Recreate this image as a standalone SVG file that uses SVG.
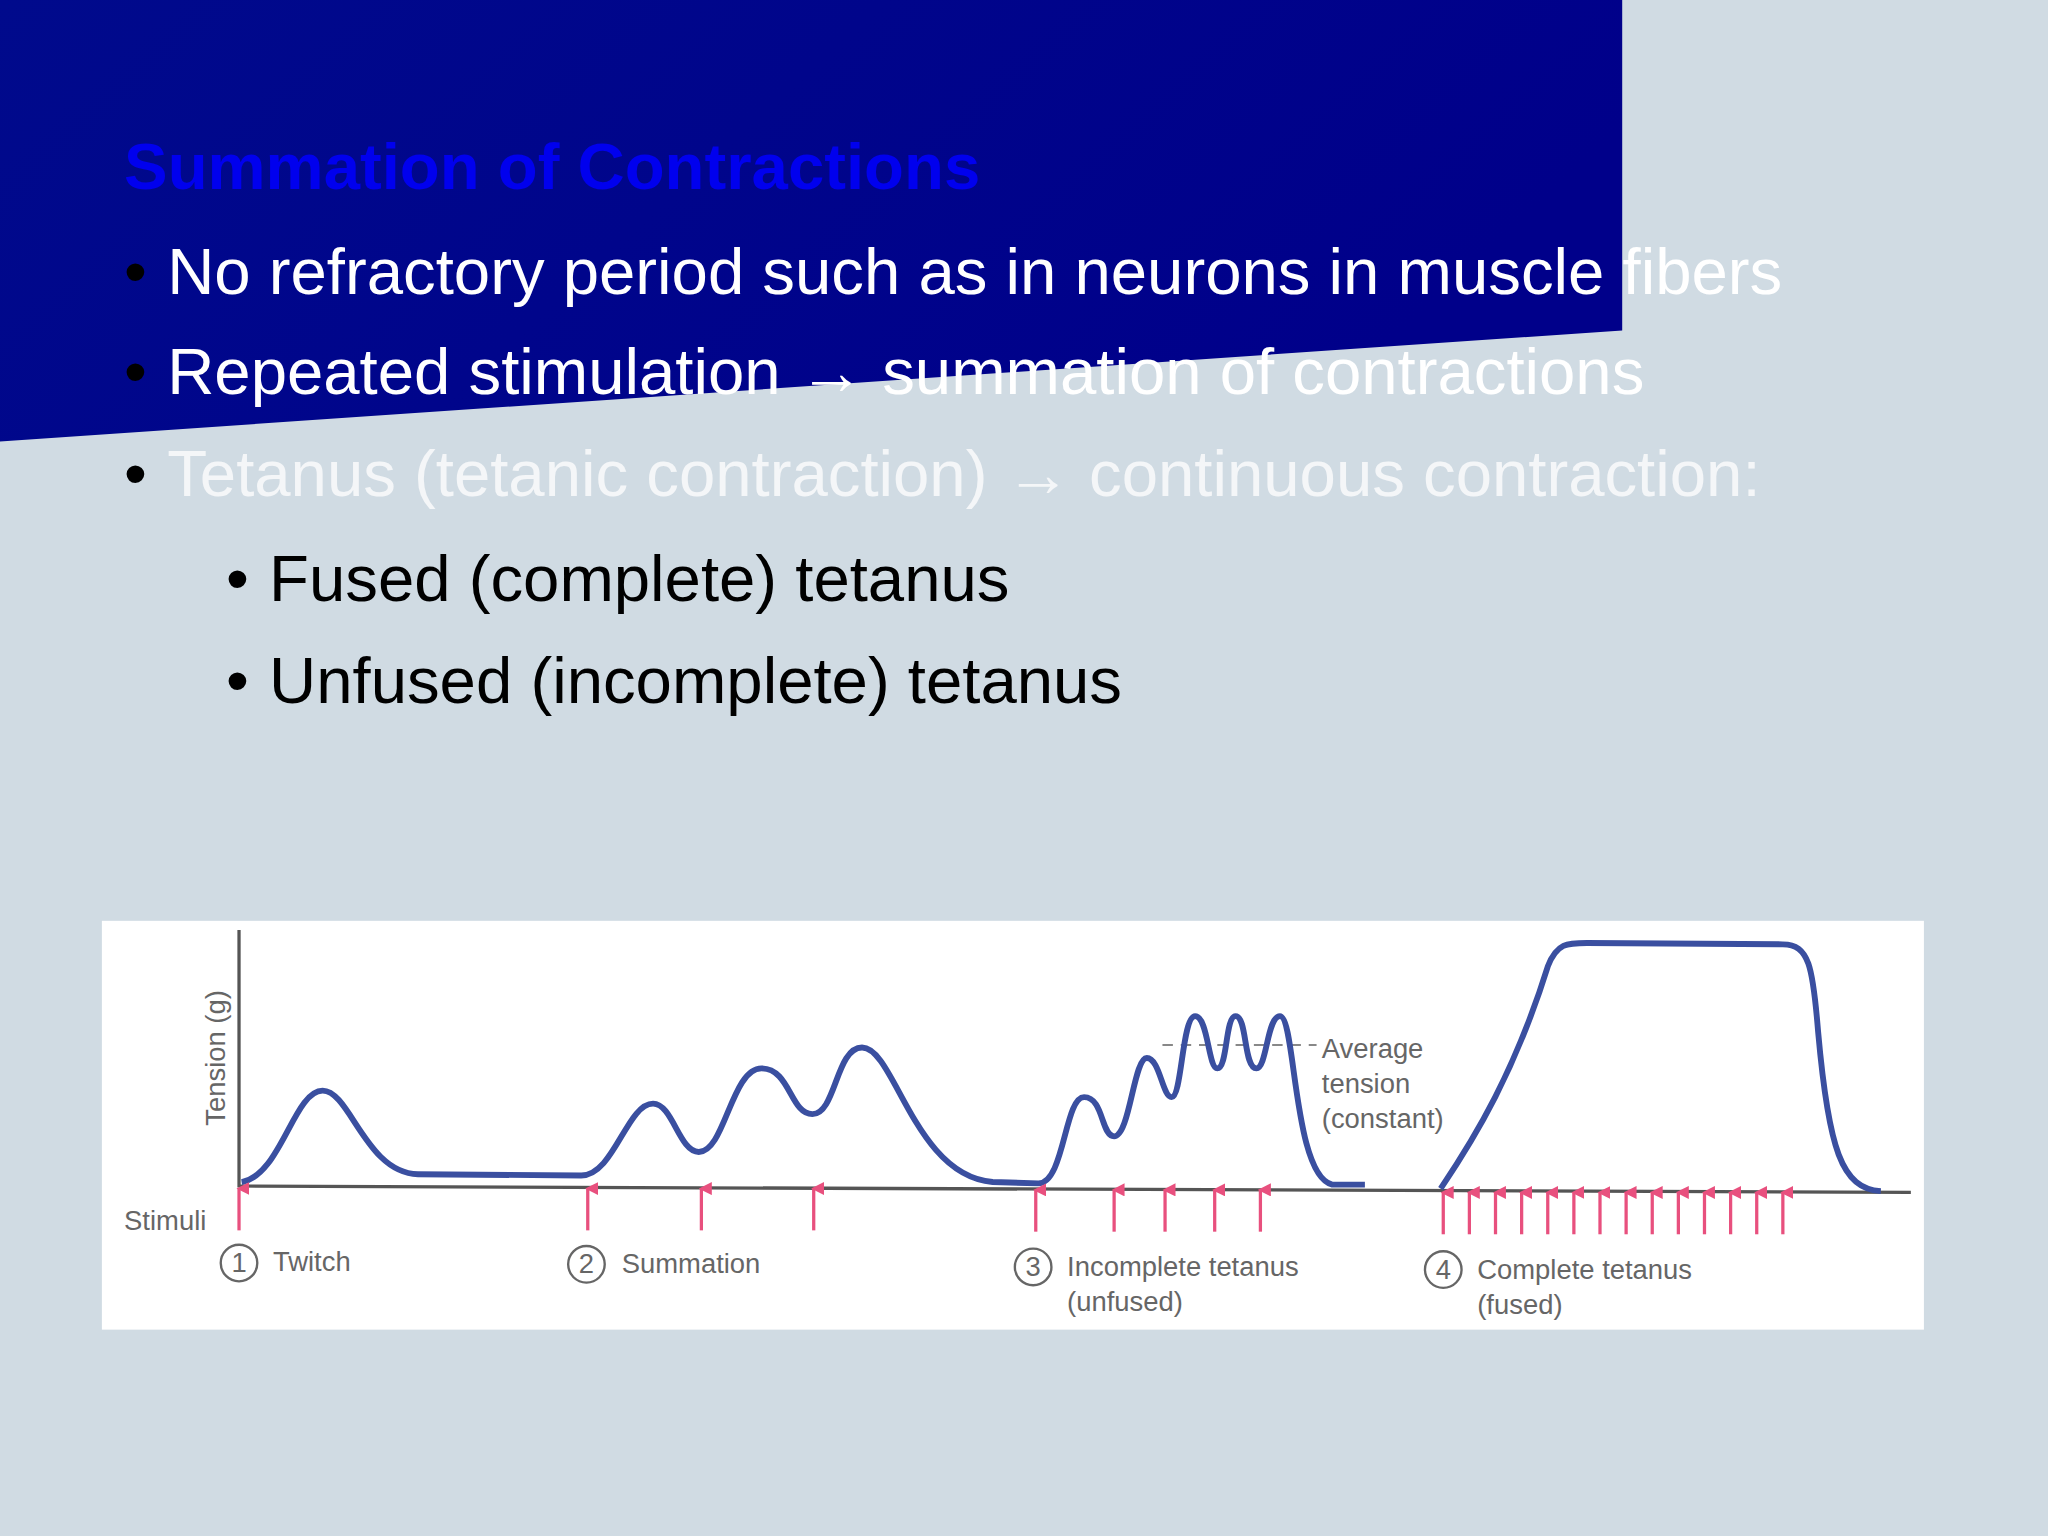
<svg xmlns="http://www.w3.org/2000/svg" width="2048" height="1536" viewBox="0 0 2048 1536">
<defs>
<linearGradient id="bg" x1="0" y1="0" x2="1" y2="0.3"><stop offset="0" stop-color="#000a8c"/><stop offset="1" stop-color="#00008a"/></linearGradient>
<marker id="ar" viewBox="0 0 10 10" refX="5" refY="2" markerWidth="4" markerHeight="4" orient="auto-start-reverse"><path d="M0,10 L5,0 L10,10 Z" fill="#e8507e"/></marker>
</defs>
<style>
.t{font-family:"Liberation Sans",Arial,sans-serif;font-size:50px}
.g{font-family:"Liberation Sans",Arial,sans-serif;font-size:21px;fill:#666}
.s{stroke:#e8507e;stroke-width:2.5;marker-start:url(#ar)}
.c{fill:none;stroke:#666;stroke-width:1.8}
</style>
<rect width="2048" height="1536" fill="#d0dbe3"/>
<g transform="scale(1.30612)">
<polygon points="0,0 1242,0 1242,253 0,338" fill="url(#bg)"/>
<text x="95" y="145" class="t" font-weight="bold" fill="#0000ee">Summation of Contractions</text>
<text x="95" y="225" class="t" fill="#000">•</text>
<text x="128" y="225" class="t" fill="#fff">No refractory period such as in neurons in muscle fibers</text>
<text x="95" y="302" class="t" fill="#000">•</text>
<text x="128" y="302" class="t" fill="#fff">Repeated stimulation → summation of contractions</text>
<text x="95" y="380" class="t" fill="#000">•</text>
<text x="128" y="380" class="t" fill="#f4f6f8">Tetanus (tetanic contraction) → continuous contraction:</text>
<text x="173" y="460" class="t" fill="#000">•</text>
<text x="206" y="460" class="t" fill="#000">Fused (complete) tetanus</text>
<text x="173" y="538" class="t" fill="#000">•</text>
<text x="206" y="538" class="t" fill="#000">Unfused (incomplete) tetanus</text>

<g id="graph">
<rect x="78" y="705" width="1395" height="313" fill="#fff"/>
<path d="M183,712 L183,908 L1463,913" fill="none" stroke="#555" stroke-width="2.5"/>
<line x1="890" y1="800" x2="1008" y2="800" stroke="#888" stroke-width="1.5" stroke-dasharray="8,6"/>
<path d="M185,905 C215,900 225,835 247,835 C268,835 280,898 320,899 L445,900 C470,900 480,845 500,845 C515,845 520,882 535,882 C555,882 560,818 583,818 C605,818 605,853 622,853 C640,853 640,802 660,802 C685,802 700,900 760,905 L795,906 C815,906 815,840 830,840 C845,840 843,870 853,870 C865,870 868,810 878,810 C888,810 890,840 897,840 C905,840 905,778 915,778 C925,778 925,818 932,818 C940,818 938,778 946,778 C955,778 952,818 962,818 C970,818 970,778 980,778 C992,778 990,900 1020,907 L1045,907" fill="none" stroke="#3a4fa0" stroke-width="4.5"/>
<path d="M1103,910 C1130,870 1160,820 1185,740 C1192,722 1200,722 1215,722 L1365,723 C1385,723 1388,740 1392,790 C1400,880 1410,910 1440,912" fill="none" stroke="#3a4fa0" stroke-width="4.5"/>
<g>
<line class="s" x1="183" y1="910" x2="183" y2="942"/>
<line class="s" x1="450" y1="910" x2="450" y2="942"/>
<line class="s" x1="537" y1="910" x2="537" y2="942"/>
<line class="s" x1="623" y1="910" x2="623" y2="942"/>
<line class="s" x1="793" y1="911" x2="793" y2="943"/>
<line class="s" x1="853" y1="911" x2="853" y2="943"/>
<line class="s" x1="892" y1="911" x2="892" y2="943"/>
<line class="s" x1="930" y1="911" x2="930" y2="943"/>
<line class="s" x1="965" y1="911" x2="965" y2="943"/>
<line class="s" x1="1105" y1="913" x2="1105" y2="945"/>
<line class="s" x1="1125" y1="913" x2="1125" y2="945"/>
<line class="s" x1="1145" y1="913" x2="1145" y2="945"/>
<line class="s" x1="1165" y1="913" x2="1165" y2="945"/>
<line class="s" x1="1185" y1="913" x2="1185" y2="945"/>
<line class="s" x1="1205" y1="913" x2="1205" y2="945"/>
<line class="s" x1="1225" y1="913" x2="1225" y2="945"/>
<line class="s" x1="1245" y1="913" x2="1245" y2="945"/>
<line class="s" x1="1265" y1="913" x2="1265" y2="945"/>
<line class="s" x1="1285" y1="913" x2="1285" y2="945"/>
<line class="s" x1="1305" y1="913" x2="1305" y2="945"/>
<line class="s" x1="1325" y1="913" x2="1325" y2="945"/>
<line class="s" x1="1345" y1="913" x2="1345" y2="945"/>
<line class="s" x1="1365" y1="913" x2="1365" y2="945"/>
</g>
<text class="g" x="165" y="810" text-anchor="middle" transform="rotate(-90 165 810)" dy="7">Tension (g)</text>
<text class="g" x="95" y="942">Stimuli</text>
<circle class="c" cx="183" cy="967" r="14"/><text class="g" x="183" y="974" text-anchor="middle">1</text>
<text class="g" x="209" y="973">Twitch</text>
<circle class="c" cx="449" cy="968" r="14"/><text class="g" x="449" y="975" text-anchor="middle">2</text>
<text class="g" x="476" y="975">Summation</text>
<circle class="c" cx="791" cy="970" r="14"/><text class="g" x="791" y="977" text-anchor="middle">3</text>
<text class="g" x="817" y="977">Incomplete tetanus</text>
<text class="g" x="817" y="1004">(unfused)</text>
<circle class="c" cx="1105" cy="972" r="14"/><text class="g" x="1105" y="979" text-anchor="middle">4</text>
<text class="g" x="1131" y="979">Complete tetanus</text>
<text class="g" x="1131" y="1006">(fused)</text>
<text class="g" x="1012" y="810">Average</text>
<text class="g" x="1012" y="837">tension</text>
<text class="g" x="1012" y="864">(constant)</text>
</g>
</g>
</svg>
